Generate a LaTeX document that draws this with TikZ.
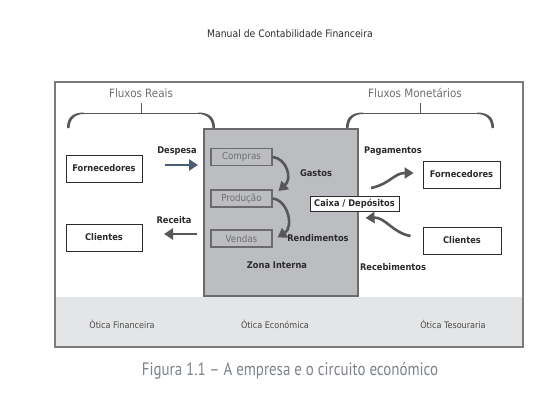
\documentclass[tikz,border=0pt]{standalone}
\usepackage{fontspec}
\setmainfont{DejaVu Sans Condensed}
\newfontfamily\capfont[FakeStretch=0.83]{PT Sans}
\usetikzlibrary{arrows.meta}

\definecolor{framegray}{HTML}{7B7B7B}
\definecolor{bandfill}{HTML}{E4E5E7}
\definecolor{zonefill}{HTML}{BCBDC0}
\definecolor{zoneline}{HTML}{6B6B6B}
\definecolor{stagetext}{HTML}{6F6F6F}
\definecolor{textdark}{HTML}{2B2B2B}
\definecolor{steelblue}{HTML}{4B5D70}
\definecolor{arrowgray}{HTML}{575757}
\definecolor{headgray}{HTML}{6D6E70}
\definecolor{capgray}{HTML}{7D8389}

\tikzset{
  realbox/.style={draw=textdark, line width=0.9pt, fill=white, minimum width=76pt, minimum height=27pt,
    inner sep=0pt, font=\fontsize{9.2}{11}\selectfont\bfseries, text=textdark},
  stagebox/.style={draw=zoneline, line width=1.1pt, minimum width=61pt, minimum height=17pt,
    inner sep=0pt, font=\fontsize{9.7}{11}\selectfont, text=stagetext},
  flowlabel/.style={font=\fontsize{9.2}{11}\selectfont\bfseries, text=textdark},
  opticlabel/.style={font=\fontsize{9}{11}\selectfont, text=textdark!85},
  headlabel/.style={font=\fontsize{11.5}{13}\selectfont, text=headgray},
  steelarrow/.style={line width=2.6pt, steelblue, -{Triangle[length=9pt,width=11pt]}},
  grayarrow/.style={line width=2.6pt, arrowgray, -{Triangle[length=9pt,width=11pt]}},
}

\begin{document}
\begin{tikzpicture}[x=1pt,y=-1pt]
    \useasboundingbox (0,0) rectangle (539,407);

    % Page header and caption
    \node[font=\fontsize{10.3}{12}\selectfont, text=textdark] (header) at (290,34) {Manual de Contabilidade Financeira};
    \node[font=\capfont\fontsize{18}{20}\selectfont, text=capgray] (caption) at (290,371) {Figura 1.1 – A empresa e o circuito económico};

    % Frame and bottom band
    \fill[bandfill] (55,297) rectangle (523,347);
    \draw[framegray, line width=1.4pt] (55,82) rectangle (523,347);

    % Braces
    \foreach \xl/\xr/\xm in {68/214/141, 347/493/420} {
        \draw[arrowgray, line width=1pt] (\xl+12,113) -- (\xr-12,113);
        \draw[arrowgray, line width=1pt] (\xm,103) -- (\xm,113);
        \fill[arrowgray] (\xl-1,128) .. controls (\xl-1,118) and (\xl+4,112.5) .. (\xl+16,112.5)
            -- (\xl+16,114) .. controls (\xl+7,114) and (\xl+2,119) .. (\xl+1.5,128) -- cycle;
        \fill[arrowgray] (\xr+1,128) .. controls (\xr+1,118) and (\xr-4,112.5) .. (\xr-16,112.5)
            -- (\xr-16,114) .. controls (\xr-7,114) and (\xr-2,119) .. (\xr-1.5,128) -- cycle;
    }
    \node[headlabel] (reais) at (141,93) {Fluxos Reais};
    \node[headlabel] (monet) at (415,93) {Fluxos Monetários};

    % Internal zone
    \node[draw=zoneline, line width=1.1pt, fill=zonefill, minimum width=154pt, minimum height=167pt] (zona) at (281,212.5) {};
    \node[stagebox] (compras) at (241.5,157) {Compras};
    \node[stagebox] (producao) at (241.5,198.5) {Produção};
    \node[stagebox] (vendas) at (241.5,238.5) {Vendas};
    \node[flowlabel] (zonalabel) at (277,265) {Zona Interna};

    % Outside boxes
    \node[realbox] (fornL) at (104,168.5) {Fornecedores};
    \node[realbox] (clientL) at (104,237.5) {Clientes};
    \node[realbox, minimum width=77pt] (fornR) at (461.5,174.5) {Fornecedores};
    \node[realbox, minimum width=78pt] (clientR) at (462,240.5) {Clientes};
    \node[realbox, minimum width=89pt, minimum height=15pt] (caixa) at (354.5,203.5) {Caixa / Depósitos};

    % Real flows
    \coordinate (despStart) at (165,165);
    \coordinate (despEnd) at (198,165);
    \coordinate (recStart) at (197,234);
    \coordinate (recEnd) at (164,234);
    \draw[steelarrow] (despStart) -- (despEnd);
    \draw[grayarrow] (recStart) -- (recEnd);
    \node[flowlabel] (despesa) at (177,151) {Despesa};
    \node[flowlabel] (receita) at (174,220) {Receita};

    % Circuit inside the zone
    \draw[grayarrow] (compras.east) .. controls (286,158) and (293,178) .. ([xshift=6pt,yshift=-1.5pt]producao.north east);
    \draw[grayarrow] (producao.east) .. controls (288,200) and (294,227) .. ([xshift=5pt,yshift=1pt]vendas.east);
    \node[flowlabel] (gastos) at (316,173) {Gastos};
    \node[flowlabel] (rendim) at (318,238) {Rendimentos};

    % Monetary flows
    \coordinate (pagStart) at (371,188);
    \draw[grayarrow] (pagStart) .. controls (390,184) and (394,173) .. ([xshift=-9pt,yshift=1.5pt]fornR.west);
    \draw[grayarrow] ([xshift=-12pt,yshift=4.5pt]clientR.west) .. controls (393,233) and (385,217) .. ([xshift=7pt,yshift=-5.5pt]zona.east);
    \node[flowlabel] (pagam) at (393,151) {Pagamentos};
    \node[flowlabel] (recebim) at (393,267) {Recebimentos};

    % Optics
    \node[opticlabel] (otfin) at (122,324) {Ótica Financeira};
    \node[opticlabel] (oteco) at (275,324) {Ótica Económica};
    \node[opticlabel] (ottes) at (453,324) {Ótica Tesouraria};
\end{tikzpicture}
\end{document}
